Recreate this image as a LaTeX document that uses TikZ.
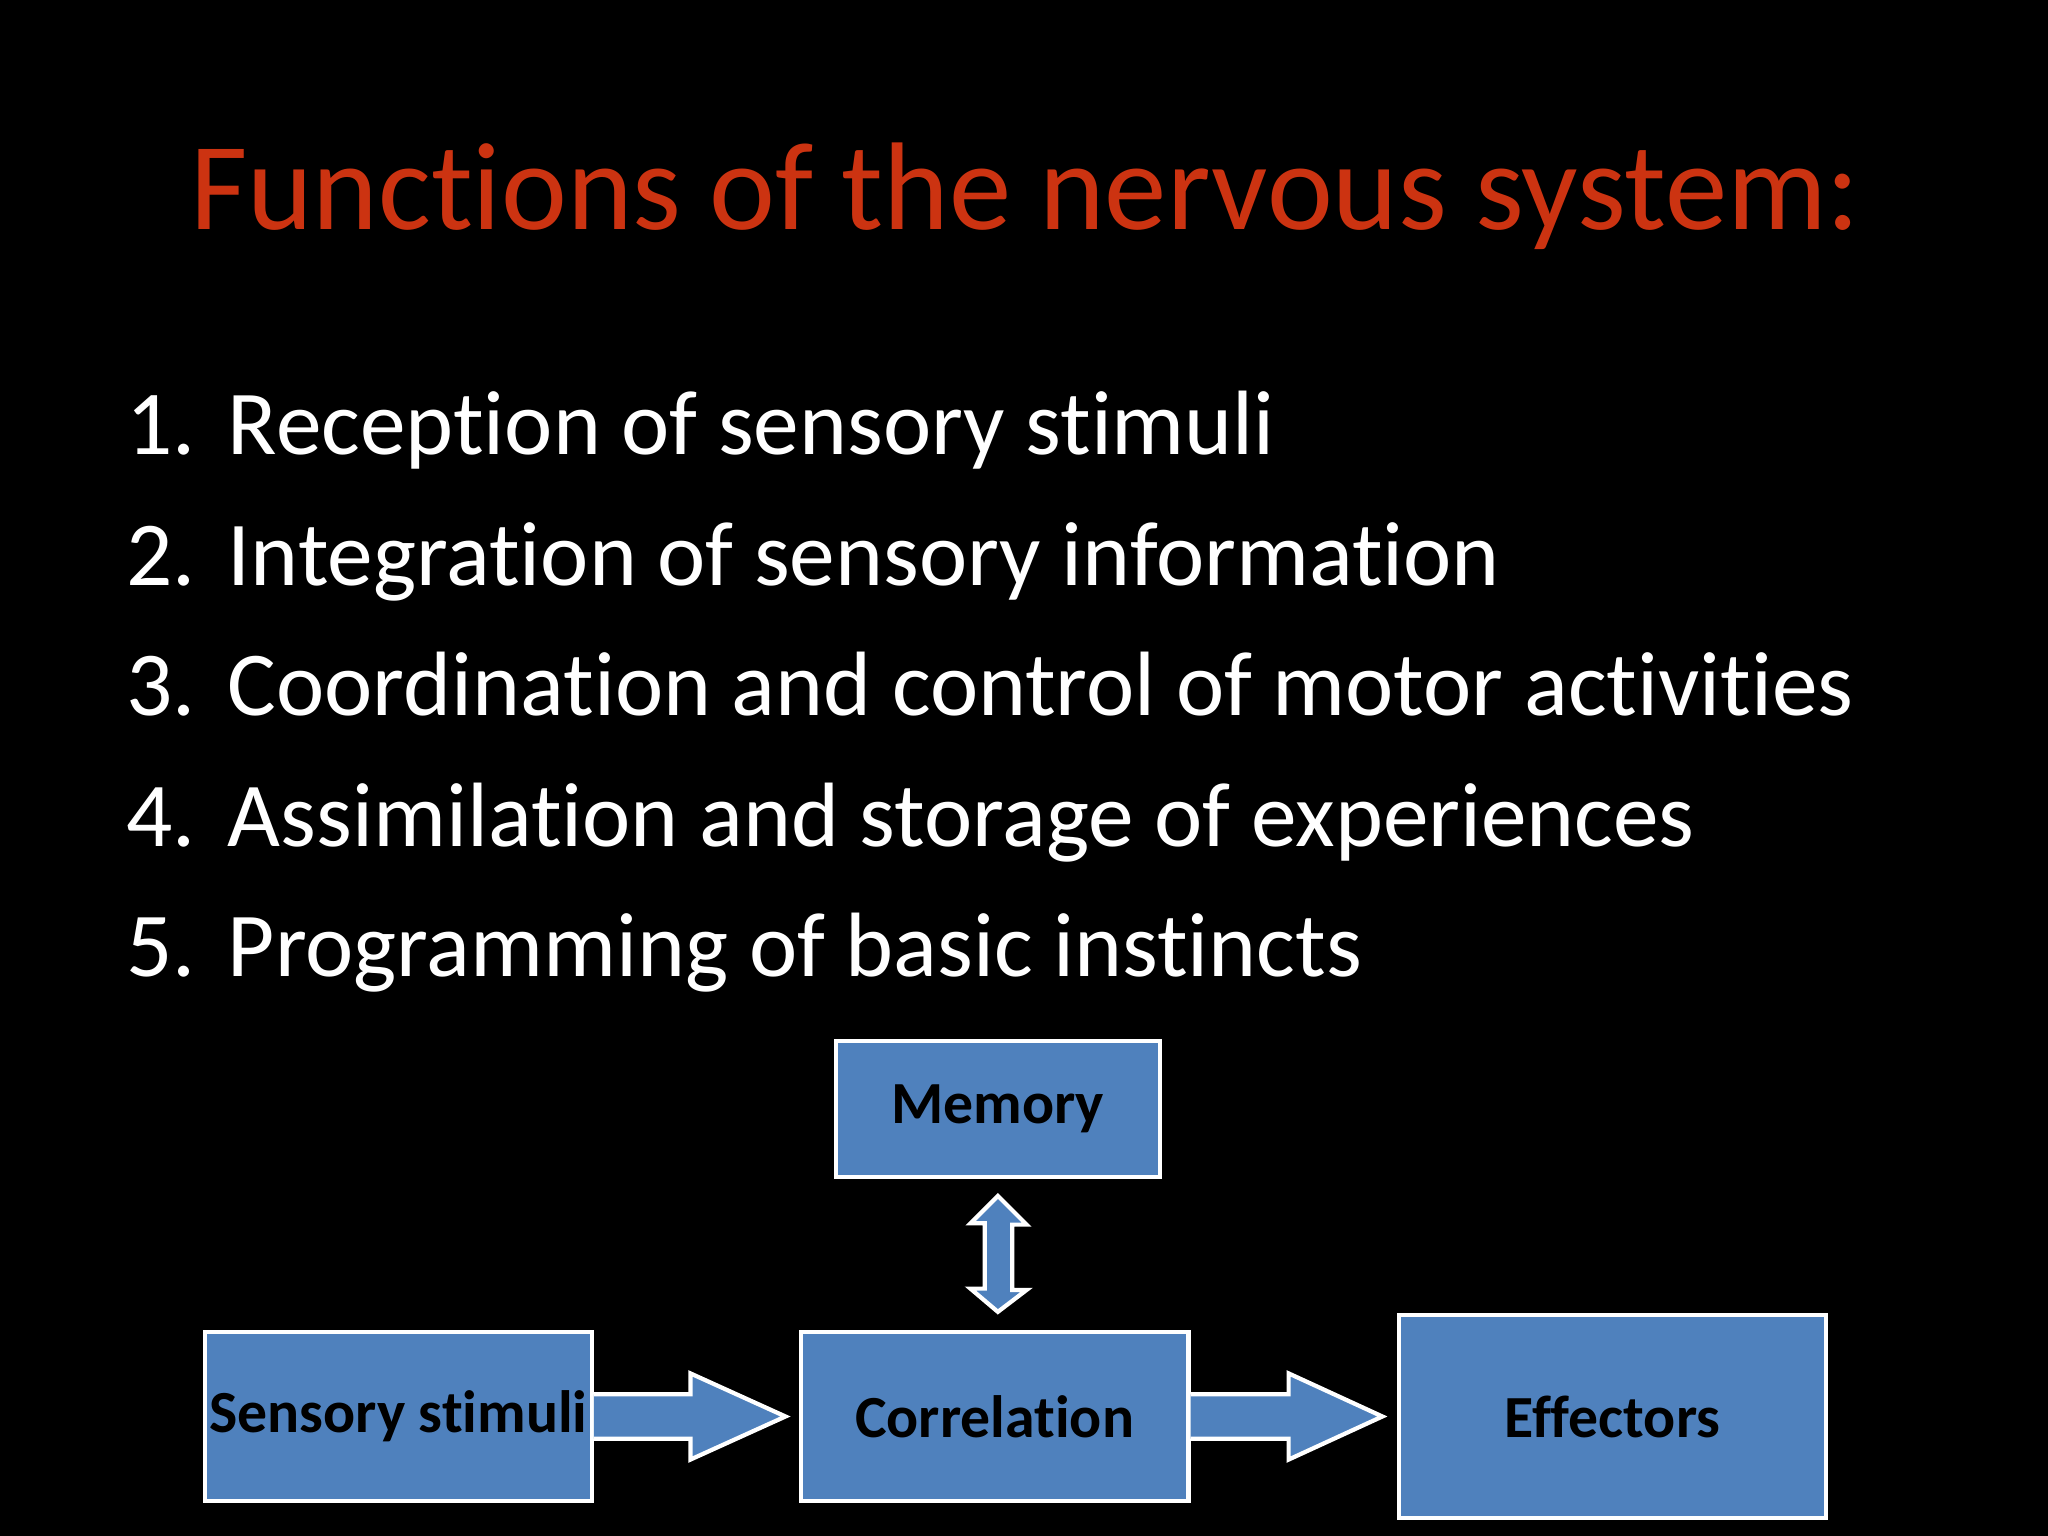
\documentclass[tikz,border=0pt]{standalone}
\usepackage{fontspec}
\setmainfont{Carlito}[RawFeature=-liga]
\usepackage{xcolor}
\usetikzlibrary{calc}
\definecolor{titlered}{RGB}{204,51,17}
\definecolor{boxblue}{RGB}{79,129,189}
\newlength{\px}
\setlength{\px}{0.3716pt}
\tikzset{
	box/.style={draw=white, line width=1.2pt, fill=boxblue, inner sep=0pt, font=\fontsize{17}{20}\selectfont\bfseries, text=black},
	item/.style={anchor=base west, inner sep=0pt, text=white, font=\fontsize{26}{31}\selectfont},
	blk/.style={draw=white, line width=1.2pt, fill=boxblue}
}
\begin{document}
\begin{tikzpicture}[x=0.013061cm, y=-0.013061cm]

\fill[black] (0,0) rectangle (1568,1176);
\useasboundingbox (0,0) rectangle (1568,1176);

\node[text=titlered, font=\fontsize{35.5}{42}\selectfont] (title) at (785,150) {Functions of the nervous system:};

% list
\foreach \n/\t [count=\i] in {1/Reception of sensory stimuli, 2/Integration of sensory information, 3/Coordination and control of motor activities, 4/Assimilation and storage of experiences, 5/Programming of basic instincts}{
	\node[item] (num\i) at (96,248+100*\i) {\n.};
	\node[item] (itm\i) at (174,248+100*\i) {\t};
}

% boxes
\node[box, minimum width=248\px, minimum height=104\px] (mem) at (764,849) {Memory};
\node[box, minimum width=297\px, minimum height=129\px] (corr) at (761.5,1084.5) {Correlation};
\node[box, minimum width=296\px, minimum height=129\px] (sens) at (305,1084.5) {Sensory stimuli};
\node[box, minimum width=327\px, minimum height=155\px] (eff) at (1234.5,1084.5) {Effectors};

% block arrows
\draw[blk] ($(sens.east)+(0,-17)$) -- ++(74,0) -- ++(0,-16) -- ($(corr.west)+(-10,0)$) -- ($(sens.east)+(74,33)$) -- ++(0,-16) -- ($(sens.east)+(0,17)$);
\draw[blk] ($(corr.east)+(0,-17)$) -- ++(75,0) -- ++(0,-16) -- ($(eff.west)+(-11,0)$) -- ($(corr.east)+(75,33)$) -- ++(0,-16) -- ($(corr.east)+(0,17)$);
\draw[blk] ($(mem.south)+(0,13)$) -- ++(22,22) -- ++(-11,0) -- ++(0,50) -- ++(11,0) -- ($(corr.north)+(2.5,-14)$) -- ($(mem.south)+(-21,84)$) -- ++(11,0) -- ++(0,-50) -- ++(-11,0) -- cycle;

\end{tikzpicture}
\end{document}
